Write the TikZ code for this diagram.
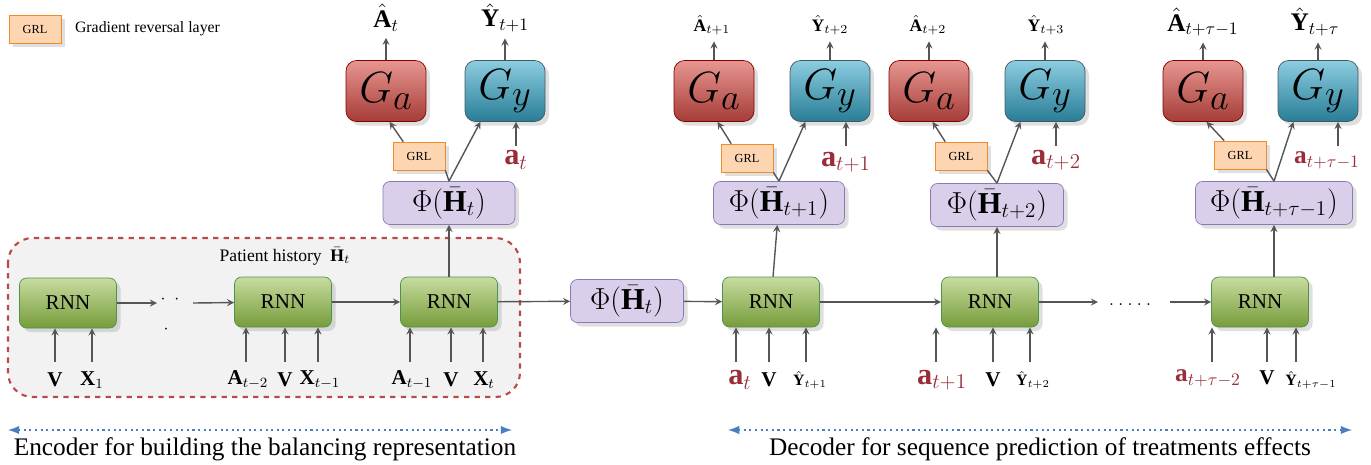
\documentclass[tikz,border=0pt]{standalone}
\usepackage{fontspec}
\setmainfont{Liberation Serif}
\usepackage{amsmath}
\usetikzlibrary{arrows, shadows, positioning}
\definecolor{redtxt}{HTML}{9B2D3A}
\definecolor{arrowgray}{HTML}{555555}
\tikzstyle{rnn} = [rectangle, rounded corners=4pt, minimum width=1.94cm, minimum height=1cm, draw=green!40!black!70, top color={rgb,255:red,200;green,220;blue,160}, bottom color={rgb,255:red,118;green,156;blue,58}, drop shadow={opacity=0.25}, font=\large]
\tikzstyle{ga} = [rectangle, rounded corners=6pt, minimum width=1.6cm, minimum height=1.22cm, draw=red!50!black, top color={rgb,255:red,232;green,150;blue,145}, bottom color={rgb,255:red,165;green,60;blue,55}, drop shadow={opacity=0.25}, font=\Huge]
\tikzstyle{gy} = [rectangle, rounded corners=6pt, minimum width=1.6cm, minimum height=1.22cm, draw=cyan!30!black, top color={rgb,255:red,140;green,205;blue,225}, bottom color={rgb,255:red,40;green,125;blue,150}, drop shadow={opacity=0.25}, font=\Huge]
\tikzstyle{phi} = [rectangle, rounded corners=4pt, minimum height=0.84cm, draw={rgb,255:red,140;green,120;blue,180}, fill={rgb,255:red,217;green,207;blue,234}, drop shadow={opacity=0.25}, font=\LARGE]
\tikzstyle{grl} = [rectangle, minimum width=1.04cm, minimum height=0.56cm, draw={rgb,255:red,240;green,138;blue,43}, fill={rgb,255:red,253;green,213;blue,177}, drop shadow={opacity=0.25}, font=\scriptsize]
\tikzstyle{inp} = [inner sep=1pt, font=\large]
\tikzstyle{act} = [inner sep=1pt, font=\LARGE, text=redtxt]
\tikzstyle{arrow} = [thick, arrowgray, ->, >=stealth]
\tikzstyle{span} = [very thick, dotted, color={rgb,255:red,74;green,127;blue,191}, <->, >=latex]

\begin{document}
\begin{tikzpicture}[x=0.02cm, y=-0.02cm]
      \useasboundingbox (0,0) rectangle (1371,464);
      % legend
      \node (legend) [grl] at (35,29) {GRL};
      \node [right=0.15cm of legend, font=\small] {Gradient reversal layer};
      % encoder
      \draw [dashed, line width=1.2pt, draw={rgb,255:red,184;green,74;blue,74}, fill=black!5, rounded corners=14pt] (8,238) rectangle (520,397);
      \node (hist) at (285,256) {Patient history \ $\bar{\mathbf{H}}_t$};
      \node (rnn1) [rnn] at (68,303) {RNN};
      \node (rnn2) [rnn] at (283,302) {RNN};
      \node (rnn3) [rnn] at (449,302) {RNN};
      \node (dots1) at (170,300) {$\cdot\ \ \cdot$};
      \node at (166,330) {$\cdot$};
      \coordinate (d1l) at (157,303);
      \coordinate (d1r) at (193,303);
      \draw [arrow] (rnn1) -- (d1l);
      \draw [arrow] (d1r) -- (rnn2);
      \draw [arrow] (rnn2) -- (rnn3);
      \node (v1) [inp] at (55,380) {$\mathbf{V}$};
      \node (x1) [inp] at (92,380) {$\mathbf{X}_1$};
      \node (a2) [inp] at (248,380) {$\mathbf{A}_{t-2}$};
      \node (v2) [inp] at (285,380) {$\mathbf{V}$};
      \node (x2) [inp] at (320,380) {$\mathbf{X}_{t-1}$};
      \node (a3) [inp] at (412,380) {$\mathbf{A}_{t-1}$};
      \node (v3) [inp] at (451,380) {$\mathbf{V}$};
      \node (x3) [inp] at (484,380) {$\mathbf{X}_{t}$};
      % encoder head
      \node (phi0) [phi, minimum width=2.64cm] at (449,203) {$\Phi(\bar{\mathbf{H}}_t)$};
      \node (grl0) [grl] at (419,156) {GRL};
      \node (ga0) [ga] at (386,91) {$G_a$};
      \node (gy0) [gy] at (505,91) {$G_y$};
      \node (at0) [act] at (516,160) {$\mathbf{a}_t$};
      \node (oa0) [font=\Large] at (386,18) {$\hat{\mathbf{A}}_t$};
      \node (oy0) [font=\Large] at (505,18) {$\hat{\mathbf{Y}}_{t+1}$};
      \draw [arrow] (rnn3) -- (phi0);
      % representation
      \node (phim) [phi, minimum width=2.26cm] at (627,301) {$\Phi(\bar{\mathbf{H}}_t)$};
      \draw [arrow] (rnn3) -- (phim);
      % decoder heads
      \node (phi1) [phi, minimum width=2.62cm] at (779,203) {$\Phi(\bar{\mathbf{H}}_{t+1})$};
      \node (grl1) [grl] at (747,158) {GRL};
      \node (ga1) [ga] at (714,91) {$G_a$};
      \node (gy1) [gy] at (830,91) {$G_y$};
      \node (at1) [act] at (846,162) {$\mathbf{a}_{t+1}$};
      \node (oa1) at (712,25) {$\hat{\mathbf{A}}_{t+1}$};
      \node (oy1) at (830,25) {$\hat{\mathbf{Y}}_{t+2}$};
      \node (phi2) [phi, minimum width=2.66cm] at (997,205) {$\Phi(\bar{\mathbf{H}}_{t+2})$};
      \node (grl2) [grl] at (961,156) {GRL};
      \node (ga2) [ga] at (929,91) {$G_a$};
      \node (gy2) [gy] at (1045,91) {$G_y$};
      \node (at2) [act] at (1056,160) {$\mathbf{a}_{t+2}$};
      \node (oa2) at (928,25) {$\hat{\mathbf{A}}_{t+2}$};
      \node (oy2) at (1046,25) {$\hat{\mathbf{Y}}_{t+3}$};
      \node (phi3) [phi, minimum width=3.14cm] at (1274,203) {$\Phi(\bar{\mathbf{H}}_{t+\tau-1})$};
      \node (grl3) [grl] at (1240,155) {GRL};
      \node (ga3) [ga] at (1203,91) {$G_a$};
      \node (gy3) [gy] at (1318,91) {$G_y$};
      \node (at3) [act, font=\Large] at (1327,160) {$\mathbf{a}_{t+\tau-1}$};
      \node (oa3) [font=\Large] at (1203,22) {$\hat{\mathbf{A}}_{t+\tau-1}$};
      \node (oy3) [font=\Large] at (1315,22) {$\hat{\mathbf{Y}}_{t+\tau}$};
      \foreach \k in {0,1,2,3} {
        \draw [thick, arrowgray] (phi\k.north) -- (grl\k.south east);
        \draw [arrow] ([xshift=6pt]grl\k.north west) -- ([xshift=2pt]ga\k.south);
        \draw [arrow] (phi\k.north) -- ([xshift=-14pt]gy\k.south);
        \draw [arrow] (ga\k.north) -- (oa\k.south -| ga\k.north);
        \draw [arrow] (gy\k.north) -- (oy\k.south -| gy\k.north);
      }
      \foreach \x/\g in {516/gy0, 846/gy1, 1056/gy2, 1338/gy3} {
        \coordinate (ain) at (\x,146);
        \draw [arrow] (ain) -- (ain |- \g.south);
      }
      % decoder
      \node (rnn4) [rnn] at (771,302) {RNN};
      \node (rnn5) [rnn] at (990,302) {RNN};
      \node (rnn6) [rnn] at (1260,302) {RNN};
      \node (dots2) at (1130,305) {$.\ .\ .\ .\ .$};
      \coordinate (d2l) at (1098,302);
      \coordinate (d2r) at (1170,302);
      \draw [arrow] (phim) -- (rnn4);
      \draw [arrow] (rnn4) -- (rnn5);
      \draw [arrow] (rnn5) -- (d2l);
      \draw [arrow] (d2r) -- (rnn6);
      \draw [arrow] (rnn4) -- (phi1);
      \draw [arrow] (rnn5.north -| phi2.south) -- (phi2.south);
      \draw [arrow] (rnn6.north -| phi3.south) -- (phi3.south);
      \node (b4a) [act] at (740,380) {$\mathbf{a}_t$};
      \node (b4v) [inp] at (769,380) {$\mathbf{V}$};
      \node (b4y) [inp, font=\small] at (810,380) {$\hat{\mathbf{Y}}_{t+1}$};
      \node (b5a) [act] at (942,380) {$\mathbf{a}_{t+1}$};
      \node (b5v) [inp] at (993,380) {$\mathbf{V}$};
      \node (b5y) [inp, font=\small] at (1033,380) {$\hat{\mathbf{Y}}_{t+2}$};
      \node (b6a) [act, font=\Large] at (1208,378) {$\mathbf{a}_{t+\tau-2}$};
      \node (b6v) [inp] at (1267,378) {$\mathbf{V}$};
      \node (b6y) [inp, font=\small] at (1311,380) {$\hat{\mathbf{Y}}_{t+\tau-1}$};
      % input arrows
      \foreach \x/\r in {55/rnn1, 92/rnn1, 246/rnn2, 285/rnn2, 318/rnn2, 410/rnn3, 451/rnn3, 483/rnn3,
                         736/rnn4, 769/rnn4, 806/rnn4, 936/rnn5, 993/rnn5, 1030/rnn5, 1212/rnn6, 1267/rnn6, 1296/rnn6} {
        \coordinate (in) at (\x,362);
        \draw [arrow] (in) -- (in |- \r.south);
      }
      % spans
      \coordinate (encl) at (8,430);
      \coordinate (encr) at (512,430);
      \coordinate (decl) at (728,430);
      \coordinate (decr) at (1352,430);
      \draw [span] (encl) -- (encr);
      \draw [span] (decl) -- (decr);
      \node (enctxt) [font=\Large] at (265,449) {Encoder for building the balancing representation};
      \node (dectxt) [font=\Large] at (1040,449) {Decoder for sequence prediction of treatments effects};
\end{tikzpicture}
\end{document}
